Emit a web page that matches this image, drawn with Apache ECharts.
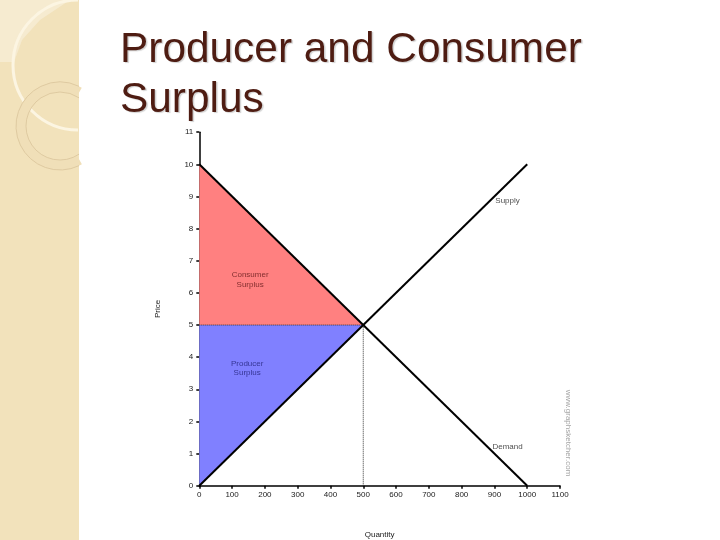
<!DOCTYPE html>
<html>
<head>
<meta charset="utf-8">
<script src="https://cdn.jsdelivr.net/npm/echarts@6/dist/echarts.min.js"></script>
<style>
html,body{margin:0;padding:0;background:#fff;}
#main{width:720px;height:540px;}
</style>
</head>
<body>
<div id="main"></div>
<script>
// ---- data ----
var supplyLine = [[0, 0], [1000, 10]];
var demandLine = [[0, 10], [1000, 0]];
var consumerSurplusEdge = [[0, 10], [500, 5]];
var producerSurplusEdge = [[0, 0], [500, 5]];
var priceGuide = [[0, 5], [500, 5]];
var quantityGuide = [[500, 0], [500, 5]];
var annotationNames = ['Consumer\nSurplus', 'Producer\nSurplus', 'Supply', 'Demand'];
var annotationAnchors = [[155, 6.41], [146, 3.65], [940, 8.87], [940, 1.21]];
var annotationColors = ['#5e1717', '#23237a', '#1a1a1a', '#1a1a1a'];
var titleLines = ['Producer and Consumer', 'Surplus'];

var chart = echarts.init(document.getElementById('main'), null, {renderer: 'canvas'});
var font = 'Liberation Sans, Arial, sans-serif';

var annotations = annotationNames.map(function (n, i) {
  return {
    name: n,
    value: annotationAnchors[i],
    label: {color: annotationColors[i]}
  };
});

var option = {
  backgroundColor: '#ffffff',
  animation: false,
  textStyle: {fontFamily: font},
  grid: {left: 199.3, top: 132.2, right: 160, bottom: 54.3, containLabel: false, outerBoundsMode: 'none'},
  xAxis: {
    type: 'value', min: 0, max: 1100, interval: 100,
    name: 'Quantity', nameLocation: 'middle', nameGap: 45,
    nameTextStyle: {fontSize: 8, color: '#1a1a1a', fontFamily: font},
    axisLine: {show: true, lineStyle: {color: '#000', width: 1.5}},
    axisTick: {show: true, length: 3, lineStyle: {color: '#000', width: 1.5}},
    axisLabel: {fontSize: 8, color: '#1a1a1a', margin: 5, fontFamily: font,
      formatter: function (v) { return String(v); }},
    splitLine: {show: false}
  },
  yAxis: {
    type: 'value', min: 0, max: 11, interval: 1,
    name: 'Price', nameLocation: 'middle', nameGap: 38,
    nameTextStyle: {fontSize: 8, color: '#1a1a1a', fontFamily: font},
    axisLine: {show: true, lineStyle: {color: '#000', width: 1.5}},
    axisTick: {show: true, length: 3, lineStyle: {color: '#000', width: 1.5}},
    axisLabel: {fontSize: 8, color: '#1a1a1a', margin: 6, fontFamily: font},
    splitLine: {show: false}
  },
  series: [
    {
      type: 'line', name: 'Consumer Surplus', data: consumerSurplusEdge,
      showSymbol: false, z: 1, silent: true,
      lineStyle: {width: 0, opacity: 0},
      areaStyle: {color: '#ff8080', opacity: 1, origin: 5}
    },
    {
      type: 'line', name: 'Producer Surplus', data: producerSurplusEdge,
      showSymbol: false, z: 1, silent: true,
      lineStyle: {width: 0, opacity: 0},
      areaStyle: {color: '#8080ff', opacity: 1, origin: 5}
    },
    {
      type: 'line', name: 'Price guide', data: priceGuide,
      showSymbol: false, z: 2, silent: true,
      lineStyle: {color: '#333', width: 1, type: 'dotted'}
    },
    {
      type: 'line', name: 'Quantity guide', data: quantityGuide,
      showSymbol: false, z: 2, silent: true,
      lineStyle: {color: '#333', width: 1, type: 'dotted'}
    },
    {
      type: 'line', name: 'Supply', data: supplyLine,
      showSymbol: false, z: 3, silent: true,
      lineStyle: {color: '#000', width: 2}
    },
    {
      type: 'line', name: 'Demand', data: demandLine,
      showSymbol: false, z: 3, silent: true,
      lineStyle: {color: '#000', width: 2}
    },
    {
      type: 'scatter', name: 'labels', data: annotations,
      symbolSize: 0, z: 4, silent: true,
      label: {
        show: true, position: 'inside', formatter: '{b}',
        fontSize: 8, lineHeight: 9.5, align: 'center', verticalAlign: 'middle',
        fontFamily: font
      }
    }
  ],
  graphic: [
    {type: 'rect', left: 0, top: 0, shape: {width: 79, height: 540}, style: {fill: '#f2e2bb'}, z: -10},
    {type: 'polygon', shape: {points: [[0, 0], [70, 0], [40, 20], [22, 40], [14, 62], [0, 62]]}, style: {fill: '#f6ebd0'}, z: -9},
    {type: 'arc', shape: {cx: 78, cy: 65, r: 65, startAngle: Math.PI / 2, endAngle: Math.PI * 1.5, clockwise: true}, style: {stroke: '#fcf5e2', lineWidth: 3, fill: null}, z: -8},
    {type: 'arc', shape: {cx: 60, cy: 126, r: 39, startAngle: 1.05, endAngle: 5.23, clockwise: true}, style: {stroke: '#f0dfb8', lineWidth: 10, fill: null}, z: -8},
    {type: 'arc', shape: {cx: 60, cy: 126, r: 44, startAngle: 1.124, endAngle: 5.159, clockwise: true}, style: {stroke: '#d9c49a', lineWidth: 0.8, fill: null}, z: -7},
    {type: 'arc', shape: {cx: 60, cy: 126, r: 34, startAngle: 0.977, endAngle: 5.306, clockwise: true}, style: {stroke: '#d9c49a', lineWidth: 0.8, fill: null}, z: -7},
    {
      type: 'text', left: 120, top: 29, z: 10,
      style: {text: titleLines[0], font: '42.4px "Liberation Sans", Arial, sans-serif', fill: '#4e1c12',
        textShadowColor: 'rgba(0,0,0,0.18)', textShadowOffsetX: 1.5, textShadowOffsetY: 1.5, textShadowBlur: 1}
    },
    {
      type: 'text', left: 120, top: 79, z: 10,
      style: {text: titleLines[1], font: '42.4px "Liberation Sans", Arial, sans-serif', fill: '#4e1c12',
        textShadowColor: 'rgba(0,0,0,0.18)', textShadowOffsetX: 1.5, textShadowOffsetY: 1.5, textShadowBlur: 1}
    },
    {
      type: 'text', x: 568, y: 433, rotation: -Math.PI / 2, z: 10,
      style: {text: 'www.graphsketcher.com', font: '8px "Liberation Sans", Arial, sans-serif', fill: '#a5a5a5',
        align: 'center', verticalAlign: 'middle'}
    }
  ]
};
chart.setOption(option);
</script>
</body>
</html>
